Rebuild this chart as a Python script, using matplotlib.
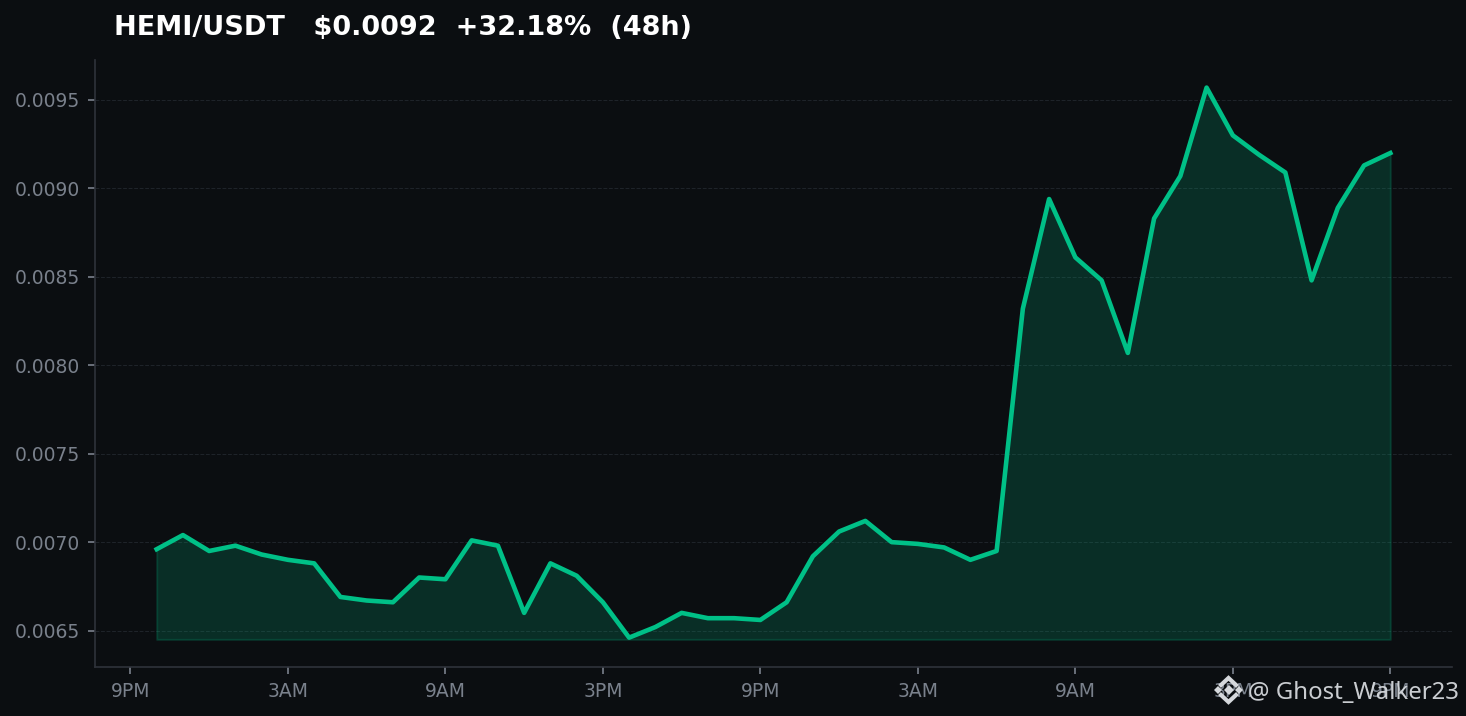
import matplotlib
matplotlib.use("Agg")
import matplotlib.pyplot as plt
from matplotlib.lines import Line2D

# hours since the first tick (9PM)
hours = list(range(1, 49))
prices = [
    0.00696, 0.00704, 0.00695, 0.00698, 0.00693, 0.00690, 0.00688, 0.00669,
    0.00667, 0.00666, 0.00680, 0.00679, 0.00701, 0.00698, 0.00660, 0.00688,
    0.00681, 0.00666, 0.00646, 0.00652, 0.00660, 0.00657, 0.00657, 0.00656,
    0.00666, 0.00692, 0.00706, 0.00712, 0.00700, 0.00699, 0.00697, 0.00690,
    0.00695, 0.00832, 0.00894, 0.00861, 0.00848, 0.00807, 0.00883, 0.00907,
    0.00957, 0.00930, 0.00919, 0.00909, 0.00848, 0.00889, 0.00913, 0.00920,
]
tick_hours = [0, 6, 12, 18, 24, 30, 36, 42, 48]
tick_labels = ["9PM", "3AM", "9AM", "3PM", "9PM", "3AM", "9AM", "3PM", "9PM"]
y_ticks = [0.0065, 0.0070, 0.0075, 0.0080, 0.0085, 0.0090, 0.0095]
fill_base = 0.00645

BG = "#0b0e11"
GREEN = "#00c087"
MUTED = "#7a818c"
EDGE = "#2f333a"
W, H = 1466, 716

fig = plt.figure(figsize=(W / 150, H / 150), dpi=150, facecolor=BG)
ax = fig.add_axes([95 / W, 1 - 667 / H, (1452 - 95) / W, (667 - 60) / H], facecolor=BG)

ax.fill_between(hours, prices, fill_base, color=GREEN, alpha=0.18, lw=1)
ax.plot(hours, prices, color=GREEN, lw=2.2)

ax.set_xlim(-1.35, 50.35)
ax.set_ylim(0.006294, 0.009726)
ax.set_xticks(tick_hours, tick_labels)
ax.set_yticks(y_ticks, [f"{v:.4f}" for v in y_ticks])
ax.tick_params(colors=MUTED, labelsize=9, width=0.8, length=3.5)
ax.grid(axis="y", color="#1e2329", ls="--", lw=0.5)
ax.set_axisbelow(True)
for side in ["top", "right"]:
    ax.spines[side].set_visible(False)
for side in ["left", "bottom"]:
    ax.spines[side].set_color(EDGE)

fig.text(114 / W, 1 - 35 / H, "HEMI/USDT   $0.0092  +32.18%  (48h)",
         color="white", fontsize=13, fontweight="bold", va="baseline")

# watermark
LOGO = "#d5d8dc"
def px(x, y):
    return x / W, 1 - y / H

def logo_band(pts):
    xs, ys = zip(*[px(*p) for p in pts])
    fig.add_artist(Line2D(xs, ys, color=LOGO, lw=2.0, solid_joinstyle="miter",
                          transform=fig.transFigure, zorder=10))

def logo_dot(x, y, size):
    fx, fy = px(x, y)
    fig.add_artist(Line2D([fx], [fy], marker="D", ms=size, color=LOGO, mew=0,
                          transform=fig.transFigure, zorder=10))

logo_band([(1221, 685), (1228.5, 678), (1236, 685)])
logo_band([(1221, 695), (1228.5, 702), (1236, 695)])
logo_dot(1218, 690, 2.6)
logo_dot(1228.5, 690, 3.2)
logo_dot(1239, 690, 2.6)

fig.text(1248 / W, 1 - 699 / H, "@ Ghost_Walker23", color=LOGO, alpha=0.95,
         family="Noto Sans", fontsize=11.5, va="baseline", zorder=10)

fig.savefig("out.png", dpi=150, facecolor=BG)
